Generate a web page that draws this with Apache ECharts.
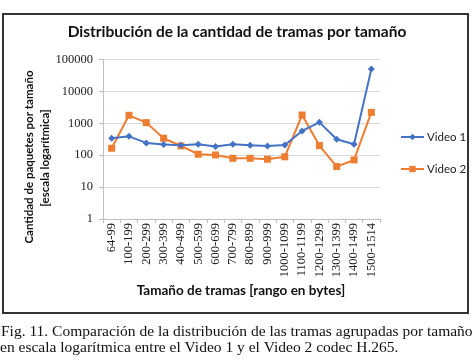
<!DOCTYPE html>
<html><head><meta charset="utf-8">
<script src="https://cdn.jsdelivr.net/npm/echarts@6/dist/echarts.min.js"></script>
<style>html,body{margin:0;padding:0;background:#fff;}#c{width:474px;height:363px;}</style>
</head><body><div id="c"></div>
<script>
const categories = ['64-99','100-199','200-299','300-399','400-499','500-599','600-699','700-799','800-899','900-999','1000-1099','1100-1199','1200-1299','1300-1399','1400-1499','1500-1514'];
const video1 = [340, 390, 243, 215, 205, 220, 187, 220, 205, 196, 210, 575, 1070, 316, 220, 50000];
const video2 = [165, 1780, 1050, 340, 196, 107, 102, 80, 80, 75, 89, 1820, 200, 44, 71, 2200];
const seriesNames = ['Video 1', 'Video 2'];
const titleText = 'Distribución de la cantidad de tramas por tamaño';
const yName1 = 'Cantidad de paquetes por tamaño';
const yName2 = '[escala logarítmica]';
const xName = 'Tamaño de tramas [rango en bytes]';
const caption1 = 'Fig. 11. Comparación de la distribución de las tramas agrupadas por tamaño';
const caption2 = 'en escala logarítmica entre el Video 1 y el Video 2 codec H.265.';

const font = "Lato, 'Open Sans', sans-serif";
const chart = echarts.init(document.getElementById('c'), null, {renderer: 'canvas'});
chart.setOption({
  animation: false,
  backgroundColor: '#fff',
  title: {
    text: titleText, left: 'center', top: 19,
    textStyle: {fontFamily: font, fontSize: 15.5, fontWeight: 'bold', color: '#111'}
  },
  legend: {
    orient: 'vertical', left: 400, top: 131, itemGap: 20, padding: 0,
    itemWidth: 23, itemHeight: 8,
    textStyle: {fontFamily: font, fontSize: 11.5, color: '#222', padding: [0,0,0,-2]},
    data: seriesNames
  },
  grid: {left: 103, right: 94, top: 59.5, bottom: 144, containLabel: false},
  xAxis: {
    type: 'category', data: categories, boundaryGap: true,
    axisLine: {lineStyle: {color: '#bfbfbf'}},
    axisTick: {show: true, length: 4, lineStyle: {color: '#bfbfbf'}},
    axisLabel: {rotate: 90, fontFamily: "'Liberation Serif', serif", fontSize: 12.5, color: '#222', margin: 4, interval: 0},
    splitLine: {show: false}
  },
  yAxis: {
    type: 'log', logBase: 10, min: 1, max: 100000,
    axisLine: {show: true, lineStyle: {color: '#bfbfbf'}},
    axisTick: {show: true, length: 4, lineStyle: {color: '#bfbfbf'}},
    axisLabel: {fontFamily: "'Liberation Serif', serif", fontSize: 12.5, color: '#222', margin: 10,
      formatter: v => String(Math.round(v))},
    splitLine: {lineStyle: {color: '#d9d9d9'}}
  },
  series: [
    {name: seriesNames[0], type: 'line', data: video1, symbol: 'diamond', symbolSize: 7,
      itemStyle: {color: '#4472C4'}, lineStyle: {width: 2, color: '#4472C4'}, z: 3},
    {name: seriesNames[1], type: 'line', data: video2, symbol: 'rect', symbolSize: 7,
      itemStyle: {color: '#ED7D31'}, lineStyle: {width: 2, color: '#ED7D31'}, z: 2}
  ],
  graphic: [
    {type: 'rect', shape: {x: 3, y: 14, width: 465, height: 299}, style: {fill: 'none', stroke: '#333', lineWidth: 2}, z: -1},
    {type: 'text', x: 29, y: 157, rotation: Math.PI/2,
      style: {text: yName1, font: "bold 11.5px Lato, sans-serif", fill: '#111', align: 'center', verticalAlign: 'middle'}},
    {type: 'text', x: 45, y: 158, rotation: Math.PI/2,
      style: {text: yName2, font: "bold 11.5px Lato, sans-serif", fill: '#111', align: 'center', verticalAlign: 'middle'}},
    {type: 'text', x: 241, y: 291,
      style: {text: xName, font: "bold 13.5px Lato, sans-serif", fill: '#111', align: 'center', verticalAlign: 'middle'}},
    {type: 'text', x: 1, y: 332,
      style: {text: caption1, font: "15.5px 'Liberation Serif', serif", fill: '#111', align: 'left', verticalAlign: 'middle'}},
    {type: 'text', x: 0, y: 348,
      style: {text: caption2, font: "15.5px 'Liberation Serif', serif", fill: '#111', align: 'left', verticalAlign: 'middle'}}
  ]
});
</script></body></html>
